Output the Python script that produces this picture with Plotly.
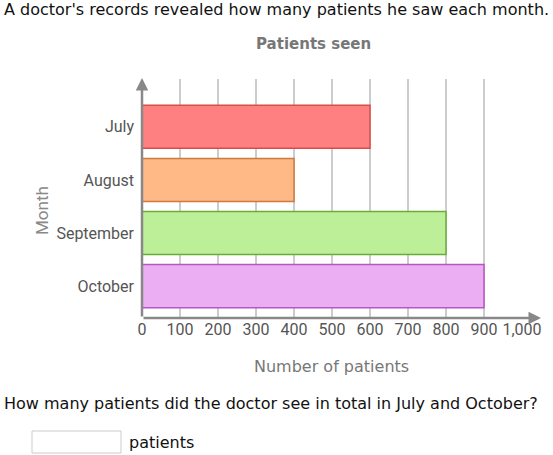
import plotly.graph_objects as go

months = ["July", "August", "September", "October"]
patients = [600, 400, 800, 900]
fill_colors = ["#ff8080", "#ffb987", "#bdef98", "#ecaef3"]
line_colors = ["#d94c4c", "#cc7a40", "#6aac3a", "#b655c4"]
x_ticks = [0, 100, 200, 300, 400, 500, 600, 700, 800, 900, 1000]
x_tick_text = ["0", "100", "200", "300", "400", "500", "600", "700", "800", "900", "1,000"]

W, H = 553, 455
L, R, T, B = 142, 31, 79, 137
pw, ph = W - L - R, H - T - B

def px(x):
    # page pixel x -> paper coordinate
    return (x - L) / pw

def py(y):
    return (H - B - y) / ph

fig = go.Figure()
fig.add_trace(go.Bar(
    y=months,
    x=patients,
    orientation="h",
    width=0.81,
    marker=dict(color=fill_colors, line=dict(color=line_colors, width=1.5)),
    hoverinfo="skip",
))

fig.update_layout(
    width=W, height=H,
    margin=dict(l=L, r=R, t=T, b=B),
    paper_bgcolor="white",
    plot_bgcolor="white",
    showlegend=False,
    font=dict(family="Roboto", color="#555"),
    xaxis=dict(
        range=[0, 1000],
        tickvals=x_ticks,
        ticktext=x_tick_text,
        showgrid=True,
        gridcolor="#cccccc",
        gridwidth=1.5,
        zeroline=False,
        showline=False,
        ticks="",
        tickfont=dict(family="Roboto", size=16, color="#555"),
        fixedrange=True,
    ),
    yaxis=dict(
        categoryorder="array",
        categoryarray=months,
        range=[3.6, -0.9],
        showgrid=False,
        zeroline=False,
        showline=False,
        ticks="",
        ticklabelstandoff=7,
        tickfont=dict(family="Roboto", size=16, color="#555"),
        fixedrange=True,
    ),
)

# axis arrows
fig.add_annotation(xref="paper", yref="paper", x=px(541), y=0, ax=-(541 - L), ay=0,
                   text="", showarrow=True, arrowhead=2, arrowsize=1, arrowwidth=2.5,
                   arrowcolor="#888")
fig.add_annotation(xref="paper", yref="paper", x=0, y=py(78), ax=0, ay=(H - B - 78),
                   text="", showarrow=True, arrowhead=2, arrowsize=1, arrowwidth=2.5,
                   arrowcolor="#888")

# texts
fig.add_annotation(xref="paper", yref="paper", x=px(2), y=py(10), xanchor="left", yanchor="middle",
                   text="A doctor's records revealed how many patients he saw each month.",
                   showarrow=False, font=dict(family="DejaVu Sans", size=16, color="#111"))
fig.add_annotation(xref="paper", yref="paper", x=px(313), y=py(44), xanchor="center", yanchor="middle",
                   text="<b>Patients seen</b>", showarrow=False,
                   font=dict(family="DejaVu Sans", size=15, color="#777"))
fig.add_annotation(xref="paper", yref="paper", x=px(42), y=py(211), xanchor="center", yanchor="middle",
                   text="Month", textangle=-90, showarrow=False,
                   font=dict(family="Roboto", size=17, color="#888"))
fig.add_annotation(xref="paper", yref="paper", x=px(331), y=py(366), xanchor="center", yanchor="middle",
                   text="Number of patients", showarrow=False,
                   font=dict(family="DejaVu Sans", size=16, color="#777"))
fig.add_annotation(xref="paper", yref="paper", x=px(2), y=py(403), xanchor="left", yanchor="middle",
                   text="How many patients did the doctor see in total in July and October?",
                   showarrow=False, font=dict(family="DejaVu Sans", size=16, color="#111"))
fig.add_shape(type="rect", xref="paper", yref="paper", x0=px(32), x1=px(121), y0=py(431), y1=py(453),
              line=dict(color="#cccccc", width=1), fillcolor="white")
fig.add_annotation(xref="paper", yref="paper", x=px(127), y=py(442), xanchor="left", yanchor="middle",
                   text="patients", showarrow=False,
                   font=dict(family="DejaVu Sans", size=16, color="#111"))

# drop the default 8px page margin so the figure sits in the window corner
fig.write_html("out.html", config={"displayModeBar": False},
               post_script="document.body.style.margin='0';")
